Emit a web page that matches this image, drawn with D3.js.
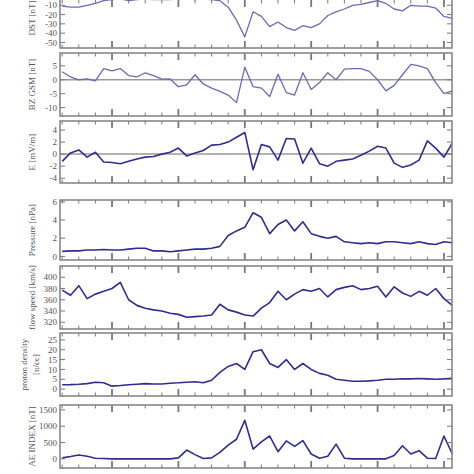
<!DOCTYPE html>
<html><head><meta charset="utf-8">
<script src="https://cdn.jsdelivr.net/npm/d3@7"></script>
<style>body{margin:0;background:#fff}svg{display:block}</style>
</head><body>
<svg id="c" width="474" height="474"></svg>
<script>
/* Stacked solar-wind / geomagnetic time series panels. */
const hours = d3.range(6, 148, 3);

const dst = [-11,-12,-12,-10,-8,-5,-4,-3,-5,-4,-3,-4,-4,-4,-3,-3,-4,-3,-4,-5,-12,-26,-44,-17,-22,-33,-28,-34,-37,-32,-34,-30,-21,-17,-14,-10,-9,-7,-5,-8,-14,-16,-10,-11,-11,-13,-22,-24];
const bz = [2.9,1,0,0.3,-0.4,4,3.2,4,1.5,1,2.5,1.5,0.2,0.3,-2.5,-1.8,1.8,-1.5,-3,-4.2,-5.5,-8.2,4.5,-2.5,-3,-6,2,-4.6,-5.5,2.5,-3.5,-1,2.5,0,3.8,4,4,3,0,-4,-2,1.8,5.5,5,4,-1,-5,-4];
const efield = [-1.2,0.2,0.7,-0.5,0.3,-1.3,-1.4,-1.6,-1.2,-0.8,-0.5,-0.4,0,0.3,1,-0.3,0.2,0.6,1.5,1.6,2,2.8,3.6,-2.6,1.6,1.2,-1,2.6,2.5,-1.5,1,-1.6,-2,-1.2,-1,-0.8,-0.2,0.5,1.3,1,-1.5,-2.2,-1.8,-1,2.2,1,-0.5,1.8];
const pressure = [0.55,0.6,0.6,0.7,0.7,0.75,0.7,0.7,0.8,0.9,0.9,0.6,0.6,0.5,0.6,0.7,0.8,0.8,0.9,1.1,2.3,2.8,3.2,4.8,4.3,2.5,3.5,4,2.8,3.8,2.5,2.2,2,2.2,1.6,1.5,1.4,1.5,1.4,1.6,1.6,1.5,1.4,1.6,1.4,1.3,1.6,1.5];
const speed = [377,368,385,362,370,375,380,391,360,350,345,342,340,336,334,329,330,331,333,352,342,338,333,331,345,355,375,360,370,378,375,380,365,378,382,385,378,380,384,365,383,372,366,375,368,380,362,350];
const density = [2.2,2.3,2.5,2.8,3.5,3.2,1.5,1.8,2.2,2.5,2.8,2.6,2.6,3,3.2,3.5,3.7,3.2,4.5,8.5,11.5,13,10,19,20,13,11,15,10,13,10,8,7,5,4.5,4,4,4.2,4.5,5,5,5.3,5.2,5.4,5.2,5,5.2,5.5];
const ae = [30,70,120,80,20,10,0,0,5,0,0,0,0,0,30,270,130,10,30,200,420,600,1180,300,520,700,220,550,380,560,150,20,80,450,20,0,0,0,0,0,100,400,150,250,20,10,700,150];

const panels = [
  { label: ["DST [nT]"], values: dst, top: -4, bottom: 48, domain: [0, -56], ticks: [-10,-20,-30,-40,-50], smooth: true },
  { label: ["BZ GSM [nT]"], values: bz, top: 53, bottom: 116, domain: [9.6, -13], ticks: [5,0,-5,-10], zero: true, smooth: true },
  { label: ["E [mV/m]"], values: efield, top: 121, bottom: 183, domain: [5.5, -4.8], ticks: [4,2,0,-2,-4], zero: true },
  { label: ["Pressure [nPa]"], values: pressure, top: 200, bottom: 260, domain: [6.2, -0.4], ticks: [0,2,4,6] },
  { label: ["flow speed [km/s]"], values: speed, top: 266, bottom: 329, domain: [420, 308], ticks: [320,340,360,380,400] },
  { label: ["proton density", "[n/cc]"], values: density, top: 333, bottom: 396, domain: [28.5, -3.5], ticks: [0,5,10,15,20,25] },
  { label: ["AE INDEX [nT]"], values: ae, top: 405, bottom: 468, domain: [1650, -280], ticks: [0,500,1000,1500] }
];

const svg = d3.select("#c");
const x = d3.scaleLinear().domain([5.2, 146.9]).range([60, 452]);
const majors = d3.range(24, 145, 24);
const minors = d3.range(6, 147, 6).filter((h) => h % 24 !== 0);
const FONT = "Liberation Serif, DejaVu Serif, serif";

panels.forEach((p) => {
  const y = d3.scaleLinear().domain(p.domain).range([p.top, p.bottom]);
  const g = svg.append("g");

  if (p.zero) {
    g.append("line").attr("x1", 60).attr("x2", 452).attr("y1", y(0)).attr("y2", y(0))
      .attr("stroke", "#999").attr("stroke-width", 1.5);
  }

  const line = d3.line().x((d, i) => x(hours[i])).y((d) => y(d));
  g.append("path").datum(p.values).attr("d", line).attr("fill", "none")
    .attr("stroke", p.smooth ? "#6a6ab4" : "#2e2e8e")
    .attr("stroke-width", p.smooth ? 1.3 : 1.6).attr("stroke-linejoin", "round");

  // x ticks (top and bottom, inward)
  const tickG = g.append("g").attr("stroke", "#777");
  const t0 = Math.max(p.top, 0);
  majors.forEach((h) => {
    tickG.append("line").attr("x1", x(h)).attr("x2", x(h)).attr("y1", p.bottom).attr("y2", p.bottom - 7).attr("stroke-width", 1.8);
    tickG.append("line").attr("x1", x(h)).attr("x2", x(h)).attr("y1", t0).attr("y2", t0 + 7).attr("stroke-width", 1.8);
  });
  minors.forEach((h) => {
    tickG.append("line").attr("x1", x(h)).attr("x2", x(h)).attr("y1", p.bottom).attr("y2", p.bottom - 3.5);
    tickG.append("line").attr("x1", x(h)).attr("x2", x(h)).attr("y1", t0).attr("y2", t0 + 3.5);
  });

  // y ticks
  p.ticks.forEach((v) => {
    tickG.append("line").attr("x1", 60).attr("x2", 65).attr("y1", y(v)).attr("y2", y(v));
    tickG.append("line").attr("x1", 452).attr("x2", 447).attr("y1", y(v)).attr("y2", y(v));
    g.append("text").attr("x", 57).attr("y", y(v)).attr("dy", "0.35em").attr("text-anchor", "end")
      .attr("font-family", FONT).attr("font-size", 9).attr("fill", "#555").text(v);
  });

  g.append("rect").attr("x", 60).attr("y", p.top).attr("width", 392).attr("height", p.bottom - p.top)
    .attr("fill", "none").attr("stroke", "#888").attr("stroke-width", 1.6);

  const cy = (t0 + p.bottom) / 2 + (p.top < 0 ? -6 : 0);
  p.label.forEach((t, i) => {
    const lx = p.label.length > 1 ? 27 + i * 12 : 35;
    g.append("text").attr("transform", `translate(${lx},${cy}) rotate(-90)`)
      .attr("text-anchor", "middle").attr("font-family", FONT).attr("font-size", 9)
      .attr("fill", "#555").text(t);
  });
});
</script>
</body></html>
